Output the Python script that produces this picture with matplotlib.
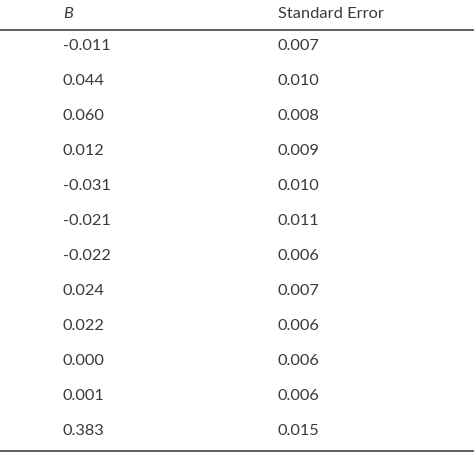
import matplotlib
matplotlib.use('Agg')
import matplotlib.pyplot as plt

b_values = ['-0.011', '0.044', '0.060', '0.012', '-0.031', '-0.021',
            '-0.022', '0.024', '0.022', '0.000', '0.001', '0.383']
se_values = ['0.007', '0.010', '0.008', '0.009', '0.010', '0.011',
             '0.006', '0.007', '0.006', '0.006', '0.006', '0.015']

W = H = 474
fig = plt.figure(figsize=(4.74, 4.74), dpi=100)
ax = fig.add_axes([0, 0, 1, 1])
ax.set_xlim(0, W)
ax.set_ylim(H, 0)
ax.axis('off')

col = '#3a3a3a'
fs = 11.8
fam = ['Lato', 'DejaVu Sans']

ax.text(63, 14, 'B', fontsize=fs, style='italic', color=col, va='center', family=fam)
ax.text(278, 14, 'Standard Error', fontsize=fs, color=col, va='center', family=fam)
ax.plot([0, W], [30, 30], color='#555555', lw=1.3)

for i, (b, se) in enumerate(zip(b_values, se_values)):
    y = 46 + i * 35
    ax.text(63, y, b, fontsize=fs, color=col, va='center', family=fam)
    ax.text(278, y, se, fontsize=fs, color=col, va='center', family=fam)

ax.plot([0, W], [451, 451], color='#555555', lw=1.3)

fig.savefig('out.png', dpi=100)
